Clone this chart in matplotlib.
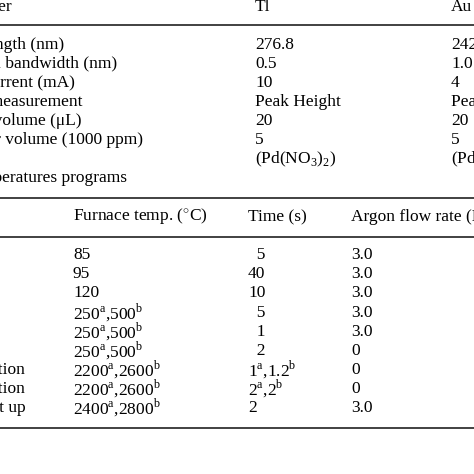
import matplotlib
matplotlib.use("Agg")
import matplotlib.pyplot as plt

plt.rcParams['font.family'] = 'Liberation Serif'
plt.rcParams['mathtext.fontset'] = 'custom'
plt.rcParams['mathtext.rm'] = 'Liberation Serif'

params = ["Parameter", "Wavelength (nm)", "Spectral bandwidth (nm)", "Lamp current (mA)",
          "Mode of measurement", "Sample volume (μL)", "Modifier volume (1000 ppm)", "",
          "Furnace temperatures programs"]
tl_vals = ["Tl", "276.8", "0.5", "10", "Peak Height", "20", "5", r"(Pd(NO$_3$)$_2$)", ""]
au_vals = ["Au", "242.8", "1.0", "4", "Peak Height", "20", "5", r"(Pd(NO$_3$)$_2$)", ""]

steps = ["Step", "Drying", "Drying", "Drying", "Pyrolysis", "Pyrolysis", "Pyrolysis",
         "Atomization", "Atomization", "Heat up"]
temps = [r"Furnace temp. ($^{\circ}$C)", "85", "95", "120",
         r"250$^{\mathrm{a}}$,500$^{\mathrm{b}}$", r"250$^{\mathrm{a}}$,500$^{\mathrm{b}}$",
         r"250$^{\mathrm{a}}$,500$^{\mathrm{b}}$", r"2200$^{\mathrm{a}}$,2600$^{\mathrm{b}}$",
         r"2200$^{\mathrm{a}}$,2600$^{\mathrm{b}}$", r"2400$^{\mathrm{a}}$,2800$^{\mathrm{b}}$"]
times = ["Time (s)", "  5", "40", "10", "  5", "  1", "  2",
         r"1$^{\mathrm{a}}$,1.2$^{\mathrm{b}}$", r"2$^{\mathrm{a}}$,2$^{\mathrm{b}}$", "2"]
argon = ["Argon flow rate (L/min)", "3.0", "3.0", "3.0", "3.0", "3.0", "0", "0", "0", "3.0"]

fig = plt.figure(figsize=(4.74, 4.74), dpi=100)
ax = fig.add_axes([0, 0, 1, 1])
ax.set_xlim(0, 474); ax.set_ylim(474, 0); ax.axis('off')

fs = 12.5
# Table 1
y1 = [7, 45, 64, 83, 102, 121, 140, 159, 178]
label_ends = [12, 64, 117, 75, 83, 82, 143, 0, 127]
for i, y in enumerate(y1):
    if params[i]:
        ax.text(label_ends[i], y, params[i], ha='right', va='center', fontsize=fs, clip_on=True)
    ax.text(255, y, tl_vals[i], ha='left', va='center', fontsize=fs, clip_on=True)
    ax.text(451, y, au_vals[i], ha='left', va='center', fontsize=fs, clip_on=True)

# Table 2
y2 = [217, 255, 274, 293, 313, 332, 351, 370, 389, 408]
step_show = [False, False, False, False, False, False, False, True, True, True]
for i, y in enumerate(y2):
    if step_show[i]:
        ax.text(26, y, steps[i], ha='right', va='center', fontsize=fs, clip_on=True)
    ax.text(73, y, temps[i], ha='left', va='center', fontsize=fs, clip_on=True)
    ax.text(248, y, times[i], ha='left', va='center', fontsize=fs, clip_on=True)
    ax.text(351, y, argon[i], ha='left', va='center', fontsize=fs, clip_on=True)

for yl in [25, 198, 237, 428]:
    ax.axhline(yl, color='#333333', lw=1.3)

fig.savefig("out.png", dpi=100, facecolor='white')
